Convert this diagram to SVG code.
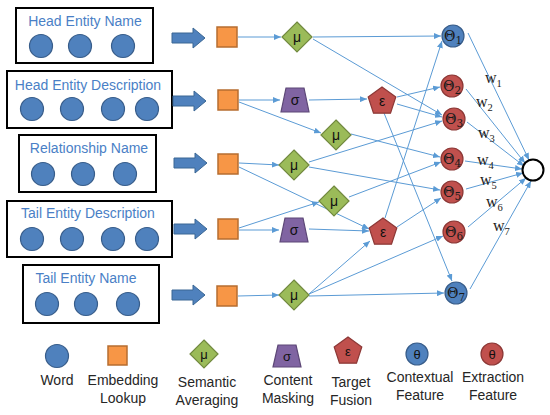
<svg xmlns="http://www.w3.org/2000/svg" width="550" height="415" viewBox="0 0 550 415">
<defs>
<style>
.box{fill:#fff;stroke:#000;stroke-width:2}
.lbl{font-family:"Liberation Sans",Arial,sans-serif;font-size:14px;fill:#4a7fc6;text-anchor:middle}
.word{fill:#4f81bd;stroke:#385d8a;stroke-width:1.2}
.barr{fill:#4f81bd;stroke:#3a6794;stroke-width:1}
.sq{fill:#f79646;stroke:#b66d31;stroke-width:1.5}
.dia{fill:#9bbb59;stroke:#71893f;stroke-width:1.2}
.trap{fill:#8064a2;stroke:#5c4776;stroke-width:1.2}
.pent{fill:#c0504d;stroke:#8c3836;stroke-width:1.2}
.cb{fill:#4f81bd;stroke:#385d8a;stroke-width:1.2}
.cr{fill:#c0504d;stroke:#8c3836;stroke-width:1.2}
.sym{font-family:"Liberation Sans",Arial,sans-serif;font-size:14px;fill:#111;text-anchor:middle}
.th{font-family:"DejaVu Serif","Liberation Serif",serif;font-size:14px;fill:#1a1a1a}
.sub{font-size:10.5px}
.w{font-family:"Liberation Serif","Times New Roman",serif;font-size:16px;fill:#1a1a1a}
.leg{font-family:"Liberation Sans",Arial,sans-serif;font-size:14px;fill:#262626;text-anchor:middle}
.e{fill:none;stroke:#5b9bd5;stroke-width:1;marker-end:url(#ah)}
</style>
<marker id="ah" markerWidth="7" markerHeight="6" refX="7" refY="3" orient="auto" markerUnits="userSpaceOnUse">
<path d="M0,0 L7,3 L0,6 z" fill="#5b9bd5"/>
</marker>
<path id="blk" d="M0,-5 L21,-5 L21,-10 L33,0 L21,10 L21,5 L0,5 Z"/>
</defs>

<g id="connectors">
<path class="e" d="M238,37 L281,37"/>
<path class="e" d="M239,100 L280,100"/>
<path class="e" d="M239,102 L321,133"/>
<path class="e" d="M239,163 L279,165"/>
<path class="e" d="M239,167 L369,229"/>
<path class="e" d="M239,228 L319,202"/>
<path class="e" d="M239,230 L279,230"/>
<path class="e" d="M238,296 L279,295"/>
<path class="e" d="M309,100 L367,99"/>
<path class="e" d="M309,229 L369,231"/>
<path class="e" d="M313,37 L441,36"/>
<path class="e" d="M313,39 L442,115"/>
<path class="e" d="M397,97 L440,87"/>
<path class="e" d="M397,104 L442,117"/>
<path class="e" d="M384,113 L452,281"/>
<path class="e" d="M351,134 L440,157"/>
<path class="e" d="M309,162 L442,121"/>
<path class="e" d="M309,167 L440,190"/>
<path class="e" d="M349,197 L441,162"/>
<path class="e" d="M385,218 L442,41"/>
<path class="e" d="M397,227 L441,198"/>
<path class="e" d="M309,294 L370,241"/>
<path class="e" d="M309,294 L443,236"/>
<path class="e" d="M309,296 L444,293"/>
<path class="e" d="M468,33 L529,160"/>
<path class="e" d="M466,89 L525,163"/>
<path class="e" d="M467,122 L524,166"/>
<path class="e" d="M465,161 L522,169"/>
<path class="e" d="M466,189 L523,173"/>
<path class="e" d="M468,227 L526,178"/>
<path class="e" d="M470,289 L531,181"/>
</g>

<g id="in-head-name">
<rect class="box" x="16" y="8" width="137" height="55"/>
<text class="lbl" x="85" y="26">Head Entity Name</text>
<circle class="word" cx="41" cy="46" r="11.5"/><circle class="word" cx="80" cy="46" r="11.5"/><circle class="word" cx="123" cy="46" r="11.5"/>
</g>
<g id="in-head-desc">
<rect class="box" x="7" y="71" width="165" height="57"/>
<text class="lbl" x="88" y="90">Head Entity Description</text>
<circle class="word" cx="32" cy="109" r="11.5"/><circle class="word" cx="72" cy="109" r="11.5"/><circle class="word" cx="113" cy="109" r="11.5"/><circle class="word" cx="147" cy="109" r="11.5"/>
</g>
<g id="in-rel-name">
<rect class="box" x="19" y="135" width="137" height="57"/>
<text class="lbl" x="89" y="153">Relationship Name</text>
<circle class="word" cx="43" cy="174" r="11.5"/><circle class="word" cx="83" cy="174" r="11.5"/><circle class="word" cx="125" cy="174" r="11.5"/>
</g>
<g id="in-tail-desc">
<rect class="box" x="7" y="201" width="165" height="56"/>
<text class="lbl" x="88" y="218">Tail Entity Description</text>
<circle class="word" cx="32" cy="239" r="11.5"/><circle class="word" cx="72" cy="239" r="11.5"/><circle class="word" cx="113" cy="239" r="11.5"/><circle class="word" cx="147" cy="239" r="11.5"/>
</g>
<g id="in-tail-name">
<rect class="box" x="23" y="265" width="136" height="58"/>
<text class="lbl" x="86" y="283">Tail Entity Name</text>
<circle class="word" cx="47" cy="304" r="11.5"/><circle class="word" cx="86" cy="304" r="11.5"/><circle class="word" cx="128" cy="304" r="11.5"/>
</g>

<g id="block-arrows">
<use href="#blk" class="barr" transform="translate(172,38)"/>
<use href="#blk" class="barr" transform="translate(173,101)"/>
<use href="#blk" class="barr" transform="translate(174,163)"/>
<use href="#blk" class="barr" transform="translate(174,229)"/>
<use href="#blk" class="barr" transform="translate(172,295)"/>
</g>

<g id="lookup1"><rect class="sq" x="217" y="27" width="20" height="20"/></g>
<g id="lookup2"><rect class="sq" x="218" y="90" width="20" height="20"/></g>
<g id="lookup3"><rect class="sq" x="218" y="154" width="20" height="20"/></g>
<g id="lookup4"><rect class="sq" x="218" y="219" width="20" height="20"/></g>
<g id="lookup5"><rect class="sq" x="217" y="286" width="20" height="20"/></g>

<g id="mu1"><polygon class="dia" points="297,22 312,37 297,52 282,37"/><text class="sym" x="297" y="42">μ</text></g>
<g id="sigma1"><polygon class="trap" points="286,88 304,88 309,112 281,112"/><text class="sym" x="295" y="105">σ</text></g>
<g id="mu2"><polygon class="dia" points="336,120 351,135 336,150 321,135"/><text class="sym" x="336" y="140">μ</text></g>
<g id="mu3"><polygon class="dia" points="294,150 309,165 294,180 279,165"/><text class="sym" x="294" y="170">μ</text></g>
<g id="mu4"><polygon class="dia" points="334,186 349,201 334,216 319,201"/><text class="sym" x="334" y="206">μ</text></g>
<g id="sigma2"><polygon class="trap" points="285,218 303,218 308,242 280,242"/><text class="sym" x="294" y="235">σ</text></g>
<g id="mu5"><polygon class="dia" points="294,280 309,295 294,310 279,295"/><text class="sym" x="294" y="300">μ</text></g>
<g id="eps1"><polygon class="pent" points="382,87 395.8,97 390.5,113.2 373.5,113.2 368.2,97"/><text class="sym" x="382" y="106">ε</text></g>
<g id="eps2"><polygon class="pent" points="383,218 396.8,228 391.5,244.2 374.5,244.2 369.2,228"/><text class="sym" x="383" y="237">ε</text></g>

<g id="theta1"><circle class="cb" cx="453" cy="36" r="11"/><text class="th" x="444" y="41">Θ<tspan class="sub" dy="3">1</tspan></text></g>
<g id="theta2"><circle class="cr" cx="452" cy="86" r="11"/><text class="th" x="443" y="91">Θ<tspan class="sub" dy="3">2</tspan></text></g>
<g id="theta3"><circle class="cr" cx="454" cy="119" r="11"/><text class="th" x="445" y="124">Θ<tspan class="sub" dy="3">3</tspan></text></g>
<g id="theta4"><circle class="cr" cx="452" cy="159" r="11"/><text class="th" x="443" y="164">Θ<tspan class="sub" dy="3">4</tspan></text></g>
<g id="theta5"><circle class="cr" cx="452" cy="192" r="11"/><text class="th" x="443" y="197">Θ<tspan class="sub" dy="3">5</tspan></text></g>
<g id="theta6"><circle class="cr" cx="454" cy="232" r="11"/><text class="th" x="445" y="237">Θ<tspan class="sub" dy="3">6</tspan></text></g>
<g id="theta7"><circle class="cb" cx="456" cy="293" r="11"/><text class="th" x="447" y="298">Θ<tspan class="sub" dy="3">7</tspan></text></g>

<g id="output"><circle cx="533" cy="170" r="10.5" fill="#fff" stroke="#000" stroke-width="2"/></g>

<g id="weights">
<text class="w" x="485" y="83">w<tspan class="sub" dy="4">1</tspan></text>
<text class="w" x="476" y="107">w<tspan class="sub" dy="4">2</tspan></text>
<text class="w" x="478" y="138">w<tspan class="sub" dy="4">3</tspan></text>
<text class="w" x="477" y="165">w<tspan class="sub" dy="4">4</tspan></text>
<text class="w" x="480" y="185">w<tspan class="sub" dy="4">5</tspan></text>
<text class="w" x="486" y="207">w<tspan class="sub" dy="4">6</tspan></text>
<text class="w" x="493" y="231">w<tspan class="sub" dy="4">7</tspan></text>
</g>

<g id="legend">
<circle class="word" cx="57" cy="356" r="11.5"/>
<text class="leg" x="57" y="385">Word</text>
<rect class="sq" x="108" y="346" width="19" height="19"/>
<text class="leg" x="123" y="385">Embedding</text>
<text class="leg" x="123" y="403">Lookup</text>
<polygon class="dia" points="204,340 218,354 204,368 190,354"/>
<text class="sym" x="204" y="359" style="font-size:13px">μ</text>
<text class="leg" x="207" y="387">Semantic</text>
<text class="leg" x="207" y="405">Averaging</text>
<polygon class="trap" points="278,345 296,345 301,367 273,367"/>
<text class="sym" x="287" y="361" style="font-size:13px">σ</text>
<text class="leg" x="288" y="385">Content</text>
<text class="leg" x="288" y="403">Masking</text>
<polygon class="pent" points="348,337 361.8,347 356.5,363.2 339.5,363.2 334.2,347"/>
<text class="sym" x="348" y="356" style="font-size:13px">ε</text>
<text class="leg" x="351" y="387">Target</text>
<text class="leg" x="351" y="405">Fusion</text>
<circle class="cb" cx="417" cy="354" r="11"/>
<text class="sym" x="417" y="359" style="font-size:13px">θ</text>
<text class="leg" x="420" y="382">Contextual</text>
<text class="leg" x="420" y="400">Feature</text>
<circle class="cr" cx="492" cy="354" r="11"/>
<text class="sym" x="492" y="359" style="font-size:13px">θ</text>
<text class="leg" x="493" y="382">Extraction</text>
<text class="leg" x="493" y="400">Feature</text>
</g>
</svg>
